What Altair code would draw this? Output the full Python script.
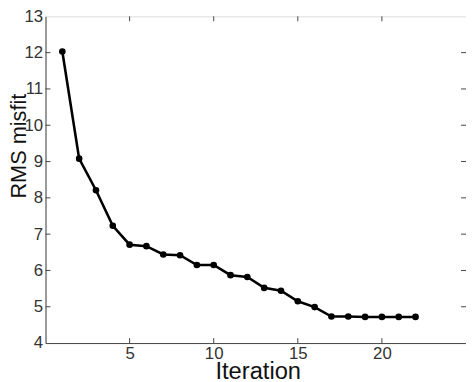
import altair as alt
import pandas as pd

iterations = list(range(1, 23))
misfit = [12.03, 9.08, 8.21, 7.23, 6.71, 6.67, 6.44, 6.42, 6.15, 6.15, 5.87,
          5.82, 5.52, 5.44, 5.15, 4.99, 4.73, 4.73, 4.72, 4.72, 4.72, 4.72]
x_ticks = [5, 10, 15, 20]
y_ticks = [5, 6, 7, 8, 9, 10, 11, 12]
y_labels = [4, 5, 6, 7, 8, 9, 10, 11, 12, 13]

df = pd.DataFrame({"Iteration": iterations, "RMS misfit": misfit})
dfx = pd.DataFrame({"t": x_ticks})
dfy = pd.DataFrame({"t": y_ticks})

W, H = 426, 331
FONT = "Liberation Sans"
AX = "#444444"

xs = alt.Scale(domain=[0, 25], nice=False, zero=False)
ys = alt.Scale(domain=[4, 13], nice=False, zero=False)

xaxis = alt.Axis(values=x_ticks, tickSize=0, labelPadding=3, labelFontSize=17,
                 labelColor="#333333", labelOverlap=False, titleFontSize=24, titleFont=FONT,
                 titleFontWeight="normal", titleColor="#111111",
                 titleX=W / 2 + 2, titleY=36, titleBaseline="alphabetic",
                 grid=False, domainColor=AX, labelFont=FONT)
yaxis = alt.Axis(values=y_labels, tickSize=0, labelPadding=3, labelFontSize=17,
                 labelColor="#333333", labelOverlap=False, labelFlush=False,
                 titleFontSize=22, titleFont=FONT,
                 titleFontWeight="normal", titleColor="#111111",
                 titleX=-20, titleY=131, titleAngle=270, titleBaseline="alphabetic",
                 grid=False, domainColor=AX, labelFont=FONT)


def X(field):
    return alt.X(field, scale=xs, axis=xaxis, title="Iteration")


def Y(field):
    return alt.Y(field, scale=ys, axis=yaxis, title="RMS misfit")


line = alt.Chart(df).mark_line(color="black", strokeWidth=2.6).encode(
    x=X("Iteration:Q"), y=Y("RMS misfit:Q"))
pts = alt.Chart(df).mark_circle(color="black", size=45, opacity=1).encode(
    x=X("Iteration:Q"), y=Y("RMS misfit:Q"))
tb = alt.Chart(dfx).mark_rule(color=AX, strokeWidth=1).encode(
    x=X("t:Q"), y=alt.value(H), y2=alt.value(H - 5))
tt = alt.Chart(dfx).mark_rule(color=AX, strokeWidth=1).encode(
    x=X("t:Q"), y=alt.value(0), y2=alt.value(5))
tl = alt.Chart(dfy).mark_rule(color=AX, strokeWidth=1).encode(
    y=Y("t:Q"), x=alt.value(0), x2=alt.value(5))
tr = alt.Chart(dfy).mark_rule(color=AX, strokeWidth=1).encode(
    y=Y("t:Q"), x=alt.value(W), x2=alt.value(W - 5))

chart = alt.layer(line, pts, tb, tt, tl, tr).properties(
    width=W, height=H,
    autosize=alt.AutoSizeParams(type="none"),
    padding={"left": 38, "top": 6, "right": 0, "bottom": 37},
).configure_view(stroke=AX, strokeWidth=1).configure(background="white")

chart.save("out.html", embed_options={"renderer": "svg", "actions": False})
